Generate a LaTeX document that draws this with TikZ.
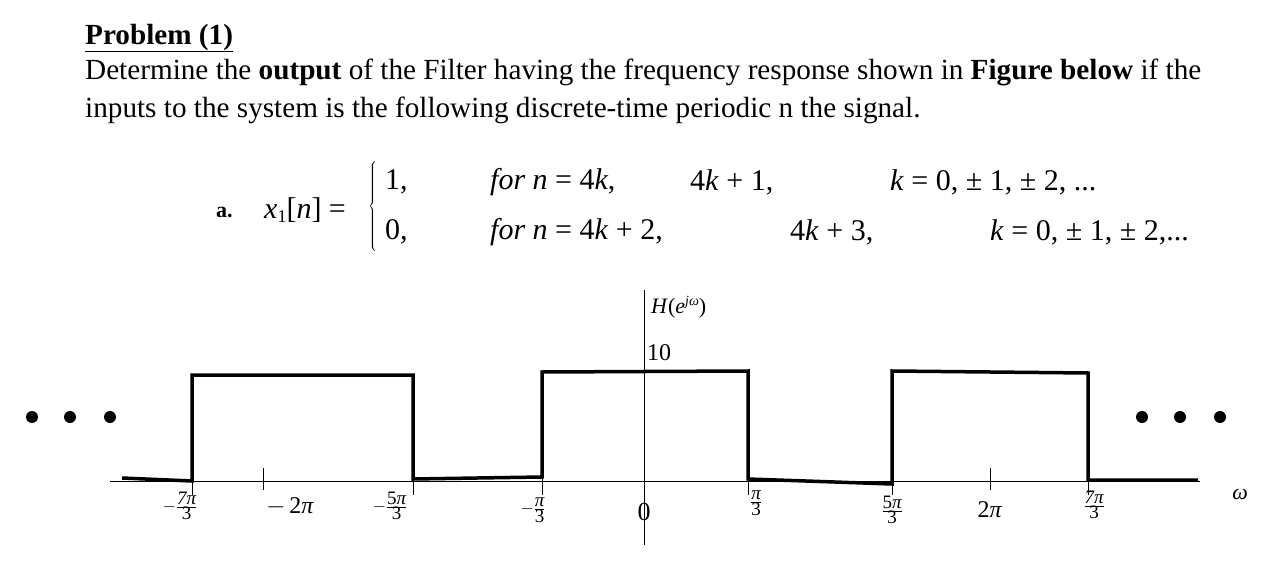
\documentclass[tikz,border=0pt]{standalone}
\usepackage{fontspec}
\setmainfont{Liberation Serif}
\newcommand{\myfr}[2]{$\frac{\mbox{#1}}{\mbox{#2}}$}
\begin{document}
\begin{tikzpicture}[x=1pt,y=-1pt,
  txt/.style={anchor=west,inner sep=0pt,font=\fontsize{29.2}{34}\selectfont},
  eq/.style={anchor=west,inner sep=0pt,font=\fontsize{30}{34}\selectfont},
  lab/.style={inner sep=0pt,font=\fontsize{19}{21}\selectfont},
  sig/.style={line width=3.5pt},
  tick/.style={line width=0.8pt}]
\useasboundingbox (0,0) rectangle (1282,564);
\node[txt] (t1) at (85,38) {\textbf{\underline{Problem (1)}}};
\node[txt] (t2) at (85,72) {Determine the \textbf{output} of the Filter having the frequency response shown in \textbf{Figure below} if the};
\node[txt] (t3) at (85,110) {inputs to the system is the following discrete-time periodic n the signal.};
\node[txt,font=\fontsize{22}{26}\selectfont\bfseries] (la) at (216,212) {a.};
\node[eq] (lhs) at (264,210) {\textit{x}\raisebox{-4pt}{\fontsize{18}{20}\selectfont 1}[\textit{n}] =};
\node[eq,inner sep=0pt] (br) at (368,207) {$\left\{\rule{0pt}{40pt}\rule[-40pt]{0pt}{0pt}\right.$};
\node[eq] (r1a) at (385,182) {1,};
\node[eq] (r2a) at (385,232) {0,};
\node[eq] (r1b) at (490,182) {\textit{for n} = 4\textit{k},};
\node[eq] (r1c) at (690,182) {4\textit{k} + 1,};
\node[eq] (r1d) at (890,182) {\textit{k} = 0, ± 1, ± 2, ...};
\node[eq] (r2b) at (490,232) {\textit{for n} = 4\textit{k} + 2,};
\node[eq] (r2c) at (790,232) {4\textit{k} + 3,};
\node[eq] (r2d) at (990,232) {\textit{k} = 0, ± 1, ± 2,...};
% axes
\coordinate (xa) at (110,481); \coordinate (xb) at (1200,481);
\draw[tick] (xa) -- (xb);
\coordinate (ya) at (644,290); \coordinate (yb) at (644,545);
\draw[tick] (ya) -- (yb);
\node[lab,font=\fontsize{22}{24}\selectfont] (om) at (1240,494) {\itshape ω};
\node[lab,anchor=west,font=\fontsize{22}{24}\selectfont] (H) at (651,307) {\textit{H}(\textit{e}\raisebox{8pt}{\fontsize{14}{16}\selectfont\itshape jω})};
\node[lab,anchor=west,font=\fontsize{24}{26}\selectfont] (ten) at (647,353) {10};
% ticks
\foreach \x in {263,990} \draw[tick] (\x,468) -- (\x,490);
\foreach \x in {192,413,542,748,892,1088} \draw[tick] (\x,470) -- (\x,495);
% signal
\draw[sig] (122,478) -- (192,481) -- (192,375) -- (413,375) -- (413,479) -- (542,477) -- (542,372) -- (748,371) -- (748,479) -- (892,484) -- (892,371) -- (1088,373) -- (1088,480) -- (1198,480);
% tick labels
\node[lab] (l1) at (180,506) {$-$\myfr{\itshape 7π}{3}};
\node[lab,font=\fontsize{24}{26}\selectfont] (l2) at (290,507) {$-$\,2\textit{π}};
\node[lab] (l3) at (390,506) {$-$\myfr{5\itshape π}{3}};
\node[lab] (l4) at (533,510) {$-$\myfr{\itshape π}{3}};
\node[lab,font=\fontsize{26}{28}\selectfont] (l5) at (644,512) {0};
\node[lab] (l6) at (756,503) {\myfr{\itshape π}{3}};
\node[lab] (l7) at (892,510) {\myfr{5\itshape π}{3}};
\node[lab,font=\fontsize{24}{26}\selectfont] (l8) at (990,510) {2\textit{π}};
\node[lab] (l9) at (1094,505) {\myfr{\itshape 7π}{3}};
% dots
\foreach \x in {32,70,110,1142,1180,1220} \fill (\x,417) circle (6);
\end{tikzpicture}
\end{document}
